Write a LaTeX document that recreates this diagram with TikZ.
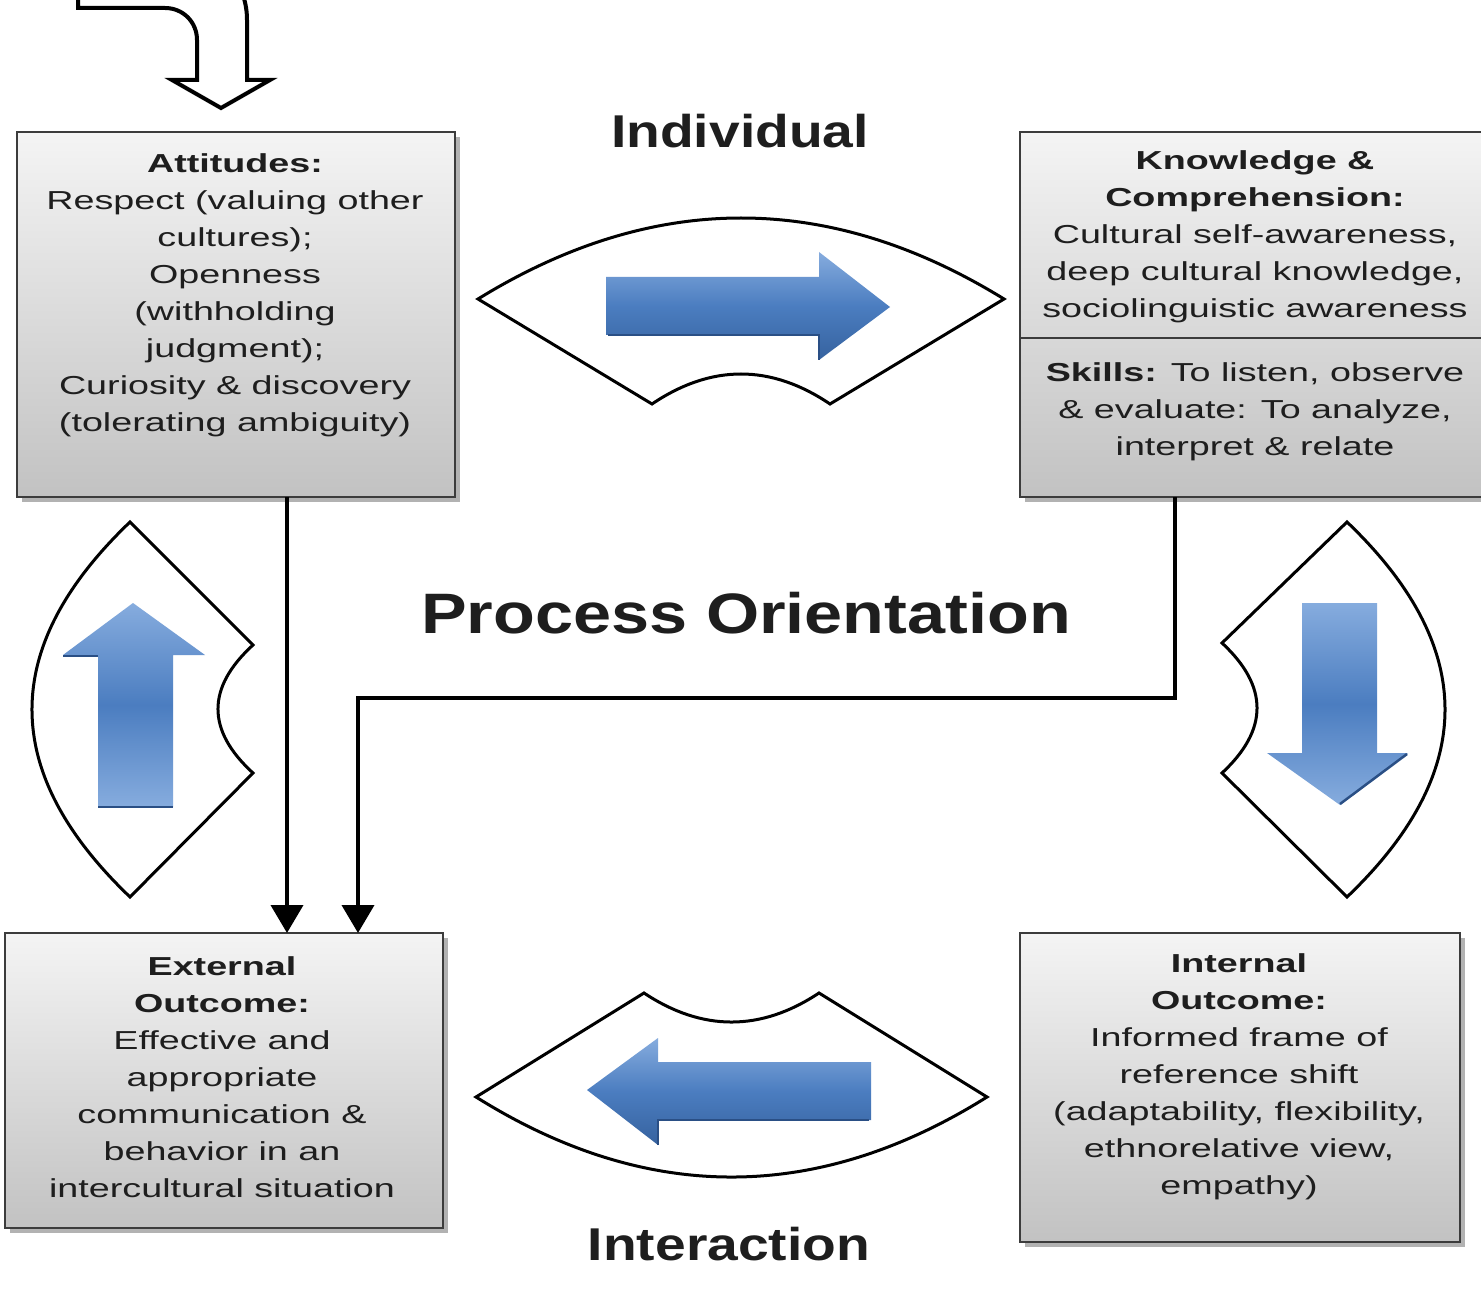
\documentclass[tikz,border=0pt]{standalone}
\usepackage{fontspec}
\setmainfont{Liberation Sans}
\usetikzlibrary{arrows.meta,shadows}
\definecolor{boxtop}{HTML}{F4F4F4}
\definecolor{boxbot}{HTML}{C2C2C2}
\definecolor{boxline}{HTML}{3C3C3C}
\definecolor{blueL}{HTML}{86ACDE}
\definecolor{blueM}{HTML}{4B7DC0}
\definecolor{blueD}{HTML}{36629F}
\definecolor{blueE}{HTML}{2A4F85}
\definecolor{txtc}{HTML}{1E1E1E}
\tikzset{
  cbox/.style={draw=boxline, line width=2.5pt, top color=boxtop, bottom color=boxbot,
    inner sep=0pt, outer sep=0pt,
    drop shadow={shadow xshift=5pt, shadow yshift=-5pt, opacity=.3, fill=black}},
  body/.style={align=center, text=txtc, font=\fontsize{26}{37}\selectfont, xscale=1.45, inner sep=0pt},
  head/.style={text=txtc, font=\bfseries\fontsize{46}{50}\selectfont, xscale=1.2, inner sep=0pt, anchor=base},
  fan/.style={draw=black, line width=3pt, fill=white, line join=miter},
  harrow/.style={top color=blueL, bottom color=blueD, middle color=blueM},
  varrow/.style={top color=blueL, bottom color=blueL, middle color=blueM},
  edgeline/.style={draw=blueE, line width=2.5pt},
  conn/.style={draw=black, line width=4pt, line join=miter, -{Triangle[width=32pt,length=28pt]}},
  hook/.style={draw=black, line width=4pt, fill=white, line join=miter}
}
\begin{document}
\begin{tikzpicture}[x=1pt,y=-1pt]
\fill[white] (0,0) rectangle (1481,1297);
\useasboundingbox (0,0) rectangle (1481,1297);

% entry hook arrow
\draw[hook] (78,8) -- (165,8) .. controls (183,8) and (197,22) .. (197,40) -- (197,80)
  -- (172,80) -- (221,108) -- (270,80) -- (247,80) -- (247,20)
  .. controls (247,-15) and (225,-42) .. (190,-42) -- (78,-42) -- cycle;

% boxes
\node[cbox, minimum width=438pt, minimum height=365pt] (att) at (236,314.5) {};
\node[cbox, minimum width=480pt, minimum height=365pt] (know) at (1260,314.5) {};
\node[cbox, minimum width=438pt, minimum height=295pt] (ext) at (224,1080.5) {};
\node[cbox, minimum width=440pt, minimum height=309pt] (int) at (1240,1087.5) {};
\coordinate (divy) at (0,338);
\draw[draw=boxline, line width=2.5pt] (know.west |- divy) -- (know.east |- divy);

% box texts
\node[body] (atttxt) at (235,295) {\textbf{Attitudes:}\\Respect (valuing other\\cultures);\\Openness\\(withholding\\judgment);\\Curiosity \& discovery\\(tolerating ambiguity)};
\node[body] (knowtxt) at (1255,237) {\textbf{Knowledge \&}\\\textbf{Comprehension:}\\Cultural self-awareness,\\deep cultural knowledge,\\sociolinguistic awareness};
\node[body] (skilltxt) at (1255,412) {\textbf{Skills:} To listen, observe\\\& evaluate: To analyze,\\interpret \& relate};
\node[body] (exttxt) at (222,1077) {\textbf{External}\\\textbf{Outcome:}\\Effective and\\appropriate\\communication \&\\behavior in an\\intercultural situation};
\node[body] (inttxt) at (1239,1077) {\textbf{Internal}\\\textbf{Outcome:}\\Informed frame of\\reference shift\\(adaptability, flexibility,\\ethnorelative view,\\empathy)};

% headings
\node[head] (indiv) at (740,148) {Individual};
\node[head] (inter) at (729,1260) {Interaction};
\node[head, font=\bfseries\fontsize{57}{60}\selectfont] (proc) at (746,633) {Process Orientation};

% fans
\draw[fan] (478,299) .. controls (653.3,191) and (828.7,191) .. (1004,299) -- (830,404)
  .. controls (770.7,364) and (711.3,364) .. (652,404) -- cycle;
\draw[fan] (476,1097) .. controls (646.3,1203.7) and (816.7,1203.7) .. (987,1097) -- (819,993)
  .. controls (760.7,1031.7) and (702.3,1031.7) .. (644,993) -- cycle;
\draw[fan] (130,522) .. controls (-0.7,647) and (-0.7,772) .. (130,897) -- (253,773)
  .. controls (206.3,730.3) and (206.3,687.7) .. (253,645) -- cycle;
\draw[fan] (1347,522) .. controls (1477.7,647) and (1477.7,772) .. (1347,897) -- (1222,773)
  .. controls (1268.7,729.7) and (1268.7,686.3) .. (1222,643) -- cycle;

% blue arrows
\shade[harrow] (606,277) -- (819,277) -- (819,252) -- (890,307) -- (819,360) -- (819,335) -- (606,335) -- cycle;
\draw[edgeline] (608,335) -- (819,335) -- (819,360);
\shade[harrow] (871,1062) -- (658,1062) -- (658,1038) -- (587,1090) -- (658,1145) -- (658,1120) -- (871,1120) -- cycle;
\draw[edgeline] (869,1120) -- (658,1120) -- (658,1145);
\shade[varrow] (98,807) -- (98,655) -- (63,655) -- (133,603) -- (205,655) -- (173,655) -- (173,807) -- cycle;
\draw[edgeline] (98,807) -- (173,807);
\draw[edgeline] (63,656) -- (98,656);
\shade[varrow] (1302,603) -- (1377,603) -- (1377,753) -- (1408,753) -- (1340,805) -- (1267,753) -- (1302,753) -- cycle;
\draw[edgeline] (1340,804) -- (1407,754);

% connectors
\coordinate (c1) at (287,0);
\draw[conn] (att.south -| c1) -- (ext.north -| c1);
\coordinate (b1) at (1175,698);
\coordinate (b2) at (358,698);
\draw[conn] (know.south -| b1) -- (b1) -- (b2) -- (ext.north -| b2);
\end{tikzpicture}
\end{document}
